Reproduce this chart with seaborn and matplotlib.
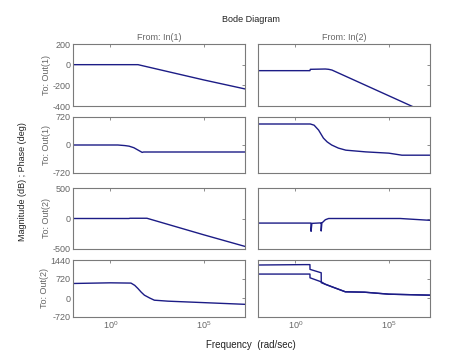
import matplotlib
matplotlib.use("Agg")
import matplotlib.pyplot as plt
import seaborn as sns
import numpy as np
import pandas as pd

# ---------------- data ----------------
col_titles = ["From: In(1)", "From: In(2)"]
row_labels = ["To: Out(1)", "To: Out(1)", "To: Out(2)", "To: Out(2)"]

# Row 1: magnitude Out(1)
freq_m11 = [1e-2, 30, 1e5, 1.6e7]
mag_m11 = [0, 0, -148, -235]
freq_m12 = [1e-2, 6.0, 6.3, 40, 60, 90, 1.6e6, 1.6e7]
mag_m12 = [-58, -58, -45, -42, -45, -52, -400, -482]

# Row 2: phase Out(1)
freq_p11 = [1e-2, 2.5, 6, 10, 18, 30, 50, 60, 1.6e7]
phs_p11 = [0, 0, -15, -30, -70, -130, -190, -180, -180]
freq_p12 = [1e-2, 6.3, 10, 17.4, 31.6, 50, 87, 200, 500, 5.8e3, 1e5, 5e5, 1.6e7]
phs_p12 = [540, 540, 510, 384, 177, 80, 0, -80, -133, -177, -210, -262, -262]

# Row 3: magnitude Out(2)
freq_m21 = [1e-2, 10, 11, 90, 100, 1e5, 1.6e7]
mag_m21 = [0, 0, 4, 4, 0, -268, -458]
freq_m22 = [1e-2, 6.8, 6.9, 7.6, 23, 23.9, 24, 26, 40, 60, 4e5, 1.6e7]
mag_m22 = [-75, -75, -210, -80, -72, -72, -205, -75, -20, 0, 0, -30]

# Row 4: phase Out(2)
freq_p21 = [1e-2, 1, 12.6, 20, 29.5, 44.7, 66, 126, 224, 1.2e3, 7e4, 1.6e7]
phs_p21 = [550, 575, 565, 480, 362, 220, 107, 0, -83, -120, -171, -240]
freq_p22a = [1e-2, 3, 6, 6.05, 24, 24.2, 40, 90, 470, 5e3, 1e5, 1.6e7]
phs_p22a = [1250, 1265, 1265, 1085, 956, 580, 520, 425, 235, 220, 145, 107]
freq_p22b = [1e-2, 6, 6.05, 24, 40, 90, 470, 5e3, 1e5, 1.6e7]
phs_p22b = [907, 907, 766, 613, 520, 425, 235, 220, 145, 107]

row_ylims = [(-400, 200), (-720, 720), (-500, 500), (-720, 1440)]
row_yticks = [[200, 0, -200, -400], [720, 0, -720], [500, 0, -500], [1440, 720, 0, -720]]
x_ticks = [1e0, 1e5]
x_ticklabels = ["$10^{0}$", "$10^{5}$"]

panels = {
    (0, 0): [(freq_m11, mag_m11)],
    (0, 1): [(freq_m12, mag_m12)],
    (1, 0): [(freq_p11, phs_p11)],
    (1, 1): [(freq_p12, phs_p12)],
    (2, 0): [(freq_m21, mag_m21)],
    (2, 1): [(freq_m22, mag_m22)],
    (3, 0): [(freq_p21, phs_p21)],
    (3, 1): [(freq_p22a, phs_p22a), (freq_p22b, phs_p22b)],
}

# ---------------- style ----------------
sns.set_style("white")
plt.rcParams["font.family"] = ["Liberation Sans", "DejaVu Sans"]
plt.rcParams["mathtext.fontset"] = "custom"
plt.rcParams["mathtext.rm"] = "Liberation Sans"
plt.rcParams["mathtext.it"] = "Liberation Sans"

W, H = 474, 355
fig = plt.figure(figsize=(W / 100, H / 100), dpi=100)
fig.patch.set_facecolor("white")

col_x = [(73, 245), (258, 430)]
row_y = [(44, 106), (117, 173), (188, 249), (260, 317)]

line_color = "#1c1c86"
gray = "#7a7a7a"
text_gray = "#666666"

axes = {}
for r in range(4):
    for c in range(2):
        x0, x1 = col_x[c]
        y0, y1 = row_y[r]
        ax = fig.add_axes([x0 / W, 1 - y1 / H, (x1 - x0) / W, (y1 - y0) / H])
        axes[(r, c)] = ax
        for fq, val in panels[(r, c)]:
            df = pd.DataFrame({"freq": fq, "val": val})
            sns.lineplot(data=df, x="freq", y="val", ax=ax, color=line_color,
                         linewidth=1.0, estimator=None, sort=False)
        ax.set_xscale("log")
        ax.set_xlim(10 ** -2.0, 10 ** 7.2)
        ax.set_ylim(*row_ylims[r])
        ax.set_yticks(row_yticks[r])
        ax.set_xticks(x_ticks)
        ax.minorticks_off()
        ax.xaxis.set_minor_locator(matplotlib.ticker.NullLocator())
        ax.tick_params(direction="in", length=2.5, width=0.6, colors=gray,
                       labelcolor=text_gray, labelsize=6.5, top=True, right=True,
                       pad=2)
        for s in ax.spines.values():
            s.set_color(gray)
            s.set_linewidth(0.8)
        ax.set_xlabel("")
        ax.set_ylabel("")
        if r == 3:
            ax.set_xticklabels(x_ticklabels)
        else:
            ax.set_xticklabels([])
        if c == 0:
            ax.set_yticklabels([str(v) for v in row_yticks[r]])
            ax.set_ylabel(row_labels[r], fontsize=6.5, color=text_gray, labelpad=1)
        else:
            ax.set_yticklabels([])
        if r == 0:
            ax.set_title(col_titles[c], fontsize=6.5, color=text_gray, pad=3)

fig.text(251 / W, 1 - 20 / H, "Bode Diagram", ha="center", va="center",
         fontsize=6.5, color="#222222")
fig.text(251 / W, 1 - 345 / H, "Frequency  (rad/sec)", ha="center", va="center",
         fontsize=7, color="#222222")
fig.text(23 / W, 1 - 182 / H, "Magnitude (dB) ; Phase (deg)", ha="center",
         va="center", rotation=90, fontsize=6.5, color="#222222")

fig.savefig("out.png", dpi=100, facecolor="white")
